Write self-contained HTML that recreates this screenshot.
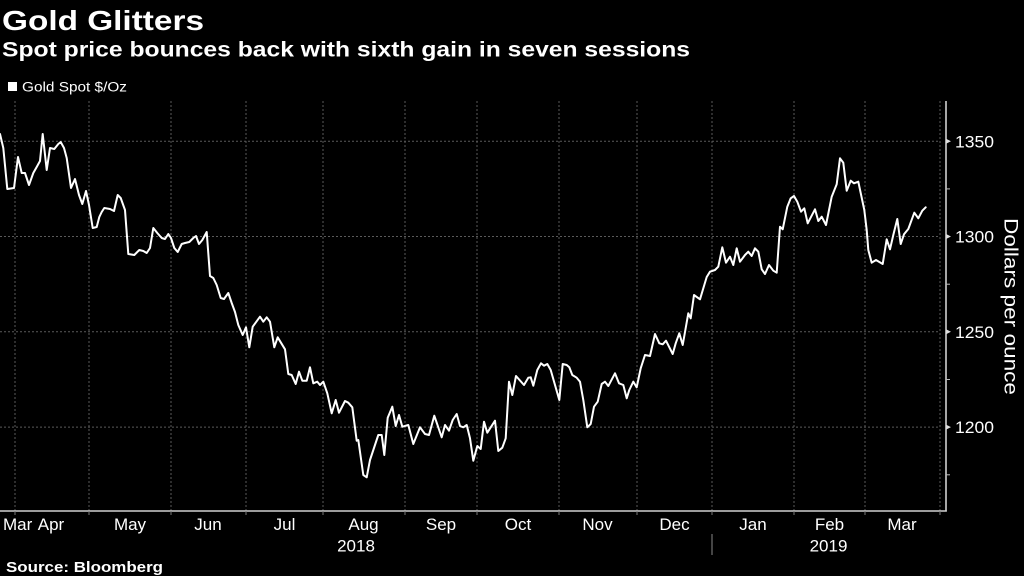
<!DOCTYPE html>
<html>
<head>
<meta charset="utf-8">
<style>
  html, body { margin:0; padding:0; background:#000; }
  body { width:1024px; height:576px; overflow:hidden; }
  svg { display:block; }
  text { font-family: "Liberation Sans", "DejaVu Sans", sans-serif; fill:#fff; }
</style>
</head>
<body>
<svg width="1024" height="576" viewBox="0 0 1024 576" xmlns="http://www.w3.org/2000/svg">
  <rect x="0" y="0" width="1024" height="576" fill="#000"/>

  <!-- Titles -->
  <text x="2" y="30" font-size="28" font-weight="bold" textLength="202" lengthAdjust="spacingAndGlyphs">Gold Glitters</text>
  <text x="2" y="56.5" font-size="21" font-weight="bold" textLength="688" lengthAdjust="spacingAndGlyphs">Spot price bounces back with sixth gain in seven sessions</text>

  <!-- Legend -->
  <rect x="8" y="82" width="9" height="9" fill="#fff"/>
  <text x="22" y="91.5" font-size="13.5" fill="#ddd" textLength="105" lengthAdjust="spacingAndGlyphs">Gold Spot $/Oz</text>

  <!-- Horizontal dotted gridlines -->
  <g stroke="#5a5a5a" stroke-width="1" stroke-dasharray="2,2">
    <line x1="0" y1="141.2" x2="940" y2="141.2"/>
    <line x1="0" y1="236.5" x2="940" y2="236.5"/>
    <line x1="0" y1="331.8" x2="940" y2="331.8"/>
    <line x1="0" y1="427.1" x2="940" y2="427.1"/>
  </g>

  <!-- Vertical dotted gridlines -->
  <g stroke="#5a5a5a" stroke-width="1" stroke-dasharray="2,2">
    <line x1="15" y1="101" x2="15" y2="511"/>
    <line x1="89" y1="101" x2="89" y2="511"/>
    <line x1="171" y1="101" x2="171" y2="511"/>
    <line x1="246" y1="101" x2="246" y2="511"/>
    <line x1="323" y1="101" x2="323" y2="511"/>
    <line x1="405" y1="101" x2="405" y2="511"/>
    <line x1="477" y1="101" x2="477" y2="511"/>
    <line x1="559" y1="101" x2="559" y2="511"/>
    <line x1="637" y1="101" x2="637" y2="511"/>
    <line x1="712" y1="101" x2="712" y2="511"/>
    <line x1="794" y1="101" x2="794" y2="511"/>
    <line x1="865" y1="101" x2="865" y2="511"/>
    <line x1="940" y1="101" x2="940" y2="511"/>
  </g>

  <!-- Axes -->
  <line x1="946" y1="101" x2="946" y2="511.5" stroke="#d0d0d0" stroke-width="1.6"/>
  <line x1="0" y1="511" x2="946.8" y2="511" stroke="#d0d0d0" stroke-width="1.4"/>

  <!-- Bottom ticks -->
  <g stroke="#777" stroke-width="1">
    <line x1="15" y1="511" x2="15" y2="515"/>
    <line x1="89" y1="511" x2="89" y2="515"/>
    <line x1="171" y1="511" x2="171" y2="515"/>
    <line x1="246" y1="511" x2="246" y2="515"/>
    <line x1="323" y1="511" x2="323" y2="515"/>
    <line x1="405" y1="511" x2="405" y2="515"/>
    <line x1="477" y1="511" x2="477" y2="515"/>
    <line x1="559" y1="511" x2="559" y2="515"/>
    <line x1="637" y1="511" x2="637" y2="515"/>
    <line x1="712" y1="511" x2="712" y2="515"/>
    <line x1="794" y1="511" x2="794" y2="515"/>
    <line x1="865" y1="511" x2="865" y2="515"/>
    <line x1="940" y1="511" x2="940" y2="515"/>
  </g>
  <line x1="712" y1="534" x2="712" y2="555" stroke="#888" stroke-width="1"/>

  <!-- Right axis ticks -->
  <g fill="#ddd">
    <polygon points="946,138.7 951,141.2 946,143.7"/>
    <polygon points="946,234 951,236.5 946,239"/>
    <polygon points="946,329.3 951,331.8 946,334.3"/>
    <polygon points="946,424.6 951,427.1 946,429.6"/>
  </g>
  <g stroke="#bbb" stroke-width="1">
    <line x1="946" y1="188.9" x2="950" y2="188.9"/>
    <line x1="946" y1="284.2" x2="950" y2="284.2"/>
    <line x1="946" y1="379.5" x2="950" y2="379.5"/>
    <line x1="946" y1="474.8" x2="950" y2="474.8"/>
  </g>

  <!-- Y labels -->
  <g font-size="16.5" fill="#ddd">
    <text x="955" y="147.5" textLength="39" lengthAdjust="spacingAndGlyphs">1350</text>
    <text x="955" y="242.6" textLength="39" lengthAdjust="spacingAndGlyphs">1300</text>
    <text x="955" y="337.9" textLength="39" lengthAdjust="spacingAndGlyphs">1250</text>
    <text x="955" y="433.2" textLength="39" lengthAdjust="spacingAndGlyphs">1200</text>
  </g>
  <text transform="translate(1004.5,218) rotate(90)" x="0" y="0" font-size="19" fill="#ddd" textLength="177" lengthAdjust="spacingAndGlyphs">Dollars per ounce</text>

  <!-- X labels -->
  <g font-size="17" fill="#ddd" text-anchor="middle">
    <text x="3" y="530" text-anchor="start">Mar</text>
    <text x="51" y="530">Apr</text>
    <text x="130" y="530">May</text>
    <text x="208" y="530">Jun</text>
    <text x="284.5" y="530">Jul</text>
    <text x="363.5" y="530">Aug</text>
    <text x="441" y="530">Sep</text>
    <text x="518" y="530">Oct</text>
    <text x="597.5" y="530">Nov</text>
    <text x="674.5" y="530">Dec</text>
    <text x="753" y="530">Jan</text>
    <text x="829.5" y="530">Feb</text>
    <text x="902" y="530">Mar</text>
    <text x="356" y="551.5">2018</text>
    <text x="828.5" y="551.5">2019</text>
  </g>

  <!-- Source -->
  <text x="6" y="572" font-size="15" font-weight="bold" textLength="157" lengthAdjust="spacingAndGlyphs">Source: Bloomberg</text>

  <!-- Series -->
  <polyline fill="none" stroke="#fff" stroke-width="2" stroke-linejoin="round" stroke-linecap="round" points="
0,134 3.3,148 7.3,189 14,188 18,157 21.7,173 25,173 29,185 33.3,173 36.7,167 40,161 42.7,134 46.7,170 50,148 54.3,149 58.3,144 60.7,142 64,148 66.7,158 71,188 75,179 79,195 82.3,204 86,191 89,205 92.7,228 96.7,227 99.3,217 101.7,212 104.3,208 110,209 114,211 117.7,195 120.7,198 125,210 128.3,254 134.3,255 139.3,250 143.3,251 146.7,253 150,248 153.3,228 157.3,233 161.7,238 165,239 168.3,234 171,238 174.3,248 177.7,252 181.7,244 185,243 189.3,242 193.3,238 196,236 199,244 202.3,240 206.7,232 210,276 213.3,278 216.7,285 220.7,298 224,299 228.3,293 231.7,303 235,312 238.3,325 242.7,335 246,327.3 249.3,347.3 252.7,326.7 260,316.7 263.3,321.7 266.7,317.3 270,321.7 274.3,347.3 277.7,337.3 285,349.3 288.3,374 291.7,375 295.7,384 299,371.7 302.3,380.7 306.7,380.7 310,367.3 313.3,383.3 317.3,381.7 320,385 323.3,381.7 327.3,393.3 331.7,413.3 335.7,400 339,412.7 345,401 348.3,402.7 352.3,407.3 356.7,440.7 358.3,440 363.3,475 366.7,477.3 370,460 378.3,435 381.7,435 384.3,455 387.7,417.7 392.3,406.7 395.7,426 399,415 402.3,426.7 408.3,425 413.3,444 420,427.3 425,434 429,435 434.3,415.7 441.7,437.3 445,425 449,430.7 452.7,420 456.7,414 460,426 463.3,427.3 466.7,425 470,438.3 473.3,460.7 477.3,446 480.7,449 484,421.7 487.3,432.7 495,420.7 498.3,451 502.3,447.7 505.7,438.3 509,381.7 512.3,395 516,376 524,385 528.3,377.7 530.7,377.3 533.3,385.7 537.3,370 541,363.3 544,365.7 547.3,364 550.7,370 559.3,400 562.7,364 566.7,365 569.3,367.3 572.3,375 576.7,377.7 580,381.7 583.3,400 587.3,427.3 590.7,424 594,406.7 597.7,401.7 601.7,384 605,381.7 608.3,386 615,373.3 619,383.3 623.3,385 626.7,398.3 629.3,390 633.3,381.7 636.7,387.3 640.7,368.3 645,355 650,356 655,334 659.3,343.3 662.7,344.3 666,340.7 672.7,354 675.7,343.3 679.3,333.3 682.7,345 688.3,313.3 690.7,318.3 694,295 700,299.3 706.7,277 710,271.7 715,270 718.3,266.7 722.3,247.3 726,262.7 730,256.7 733.3,265 736.7,248.3 740,261.7 745,255 748.3,251.7 751.7,256 755,248.3 758.3,251.7 761.7,269.3 765,274 769,265 773.3,270.7 776.7,272.7 780,226.7 782.7,229.3 787.3,206.7 790.7,198.3 794,196 797.3,201.7 801,211.7 804.3,208.3 807.7,223.3 815,209.3 818.3,221 821.7,216.7 826,225 831.7,196.7 836.7,184.3 840,158.3 843.3,162.7 846.7,190.7 850.7,180.7 854,183.3 858.3,181.7 864.3,210 866.7,230 868.3,250 871.7,262.7 876,260 882.7,264 886.7,239.3 890,249.3 893.3,235 897.3,219 900.7,244 904,234.3 908.3,229 914.3,212.7 918.3,218.3 922.3,210.7 925.7,207.3"/>
</svg>
</body>
</html>
